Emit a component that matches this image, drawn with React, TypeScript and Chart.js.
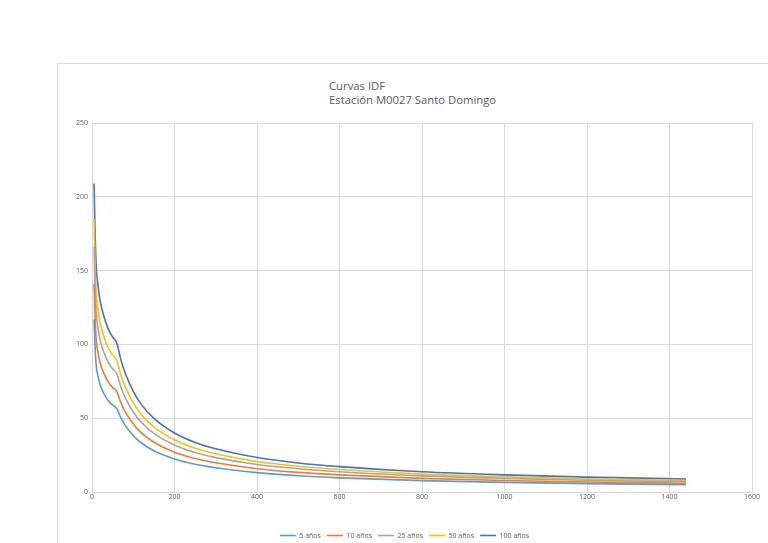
import React, { useEffect, useRef } from "react";
import { Chart, registerables } from "chart.js";

Chart.register(...registerables);

const durations = [5, 7, 10, 15, 20, 30, 40, 50, 60, 70, 80, 100, 120, 150, 200, 250, 300, 400, 500, 600, 800, 1000, 1200, 1440];
const i5 = [117.0, 101.4, 86.2, 77.8, 72.2, 66.1, 61.6, 58.8, 56.6, 50.2, 45.3, 38.2, 33.2, 27.9, 22.4, 18.8, 16.4, 13.1, 11.0, 9.6, 7.7, 6.5, 5.7, 4.9];
const i10 = [141.1, 122.2, 104.0, 93.8, 87.1, 79.7, 74.3, 70.9, 68.2, 60.5, 54.6, 46.0, 40.0, 33.7, 27.0, 22.7, 19.8, 15.8, 13.3, 11.6, 9.2, 7.8, 6.8, 5.9];
const i25 = [166.2, 143.9, 122.4, 110.5, 102.6, 93.8, 87.5, 83.5, 80.3, 71.3, 64.3, 54.2, 47.1, 39.7, 31.8, 26.7, 23.3, 18.6, 15.7, 13.7, 10.9, 9.2, 8.0, 7.0];
const i50 = [185.0, 160.2, 136.3, 123.0, 114.2, 104.4, 97.4, 92.9, 89.4, 79.4, 71.6, 60.4, 52.4, 44.2, 35.4, 29.7, 25.9, 20.7, 17.4, 15.2, 12.1, 10.3, 8.9, 7.8];
const i100 = [209.0, 181.0, 154.0, 139.0, 129.0, 118.0, 110.0, 105.0, 101.0, 89.7, 80.9, 68.2, 59.2, 49.9, 40.0, 33.6, 29.3, 23.4, 19.7, 17.2, 13.7, 11.6, 10.1, 8.8];

const seriesNames = ["5 años", "10 años", "25 años", "50 años", "100 años"];
const seriesColors = ["#5B9BD5", "#ED7D31", "#A5A5A5", "#FFC000", "#4472C4"];
const seriesValues = [i5, i10, i25, i50, i100];

const titleLines = ["Curvas IDF", "Estación M0027 Santo Domingo"];

const FONT = "'Open Sans', 'Liberation Sans', sans-serif";

export default function App() {
  const canvasRef = useRef<HTMLCanvasElement | null>(null);

  useEffect(() => {
    if (!canvasRef.current) return;
    const chart = new Chart(canvasRef.current, {
      type: "line",
      data: {
        datasets: seriesValues.map((vals, k) => ({
          label: seriesNames[k],
          data: durations.map((d, i) => ({ x: d, y: vals[i] })),
          borderColor: seriesColors[k],
          backgroundColor: seriesColors[k],
          borderWidth: 1.6,
          pointRadius: 0,
          cubicInterpolationMode: "monotone" as const,
          fill: false,
        })),
      },
      options: {
        responsive: false,
        animation: false,
        maintainAspectRatio: false,
        layout: { padding: { left: 0, right: 16, top: 60, bottom: 2 } },
        plugins: {
          title: { display: false },
          tooltip: { enabled: false },
          legend: {
            display: true,
            position: "bottom",
            labels: {
              usePointStyle: true,
              pointStyle: "line",
              pointStyleWidth: 16,
              boxHeight: 7,
              padding: 6,
              color: "#595959",
              font: { family: FONT, size: 7 },
            },
          },
        },
        scales: {
          x: {
            type: "linear",
            min: 0,
            max: 1600,
            ticks: {
              stepSize: 200,
              color: "#595959",
              font: { family: FONT, size: 7 },
              maxRotation: 0,
              padding: 1,
              callback: (v: any) => String(v),
            },
            grid: { color: "#D9D9D9", drawTicks: false },
            border: { color: "#D9D9D9" },
            afterFit: (s: any) => { s.height = 34; },
          },
          y: {
            type: "linear",
            min: 0,
            max: 250,
            ticks: {
              stepSize: 50,
              color: "#595959",
              font: { family: FONT, size: 7 },
              padding: 4,
              callback: (v: any) => String(v),
            },
            grid: { color: "#D9D9D9", drawTicks: false },
            border: { color: "#D9D9D9" },
            afterFit: (s: any) => { s.width = 35; },
          },
        },
      },
    });
    return () => chart.destroy();
  }, []);

  return (
    <div style={{ position: "fixed", left: 0, top: 0, width: 768, height: 543, overflow: "hidden", background: "#fff" }}>
      <div style={{ position: "absolute", left: 57, top: 63, width: 760, height: 520, border: "1px solid #D9D9D9", boxSizing: "border-box" }} />
      <div style={{ position: "absolute", left: 329, top: 79, fontFamily: FONT, fontSize: 11.3, lineHeight: "14px", color: "#595959", whiteSpace: "nowrap" }}>
        {titleLines.map((t) => (
          <div key={t}>{t}</div>
        ))}
      </div>
      <canvas ref={canvasRef} width={711} height={488} style={{ position: "absolute", left: 57, top: 63, width: 711, height: 488 }} />
    </div>
  );
}
